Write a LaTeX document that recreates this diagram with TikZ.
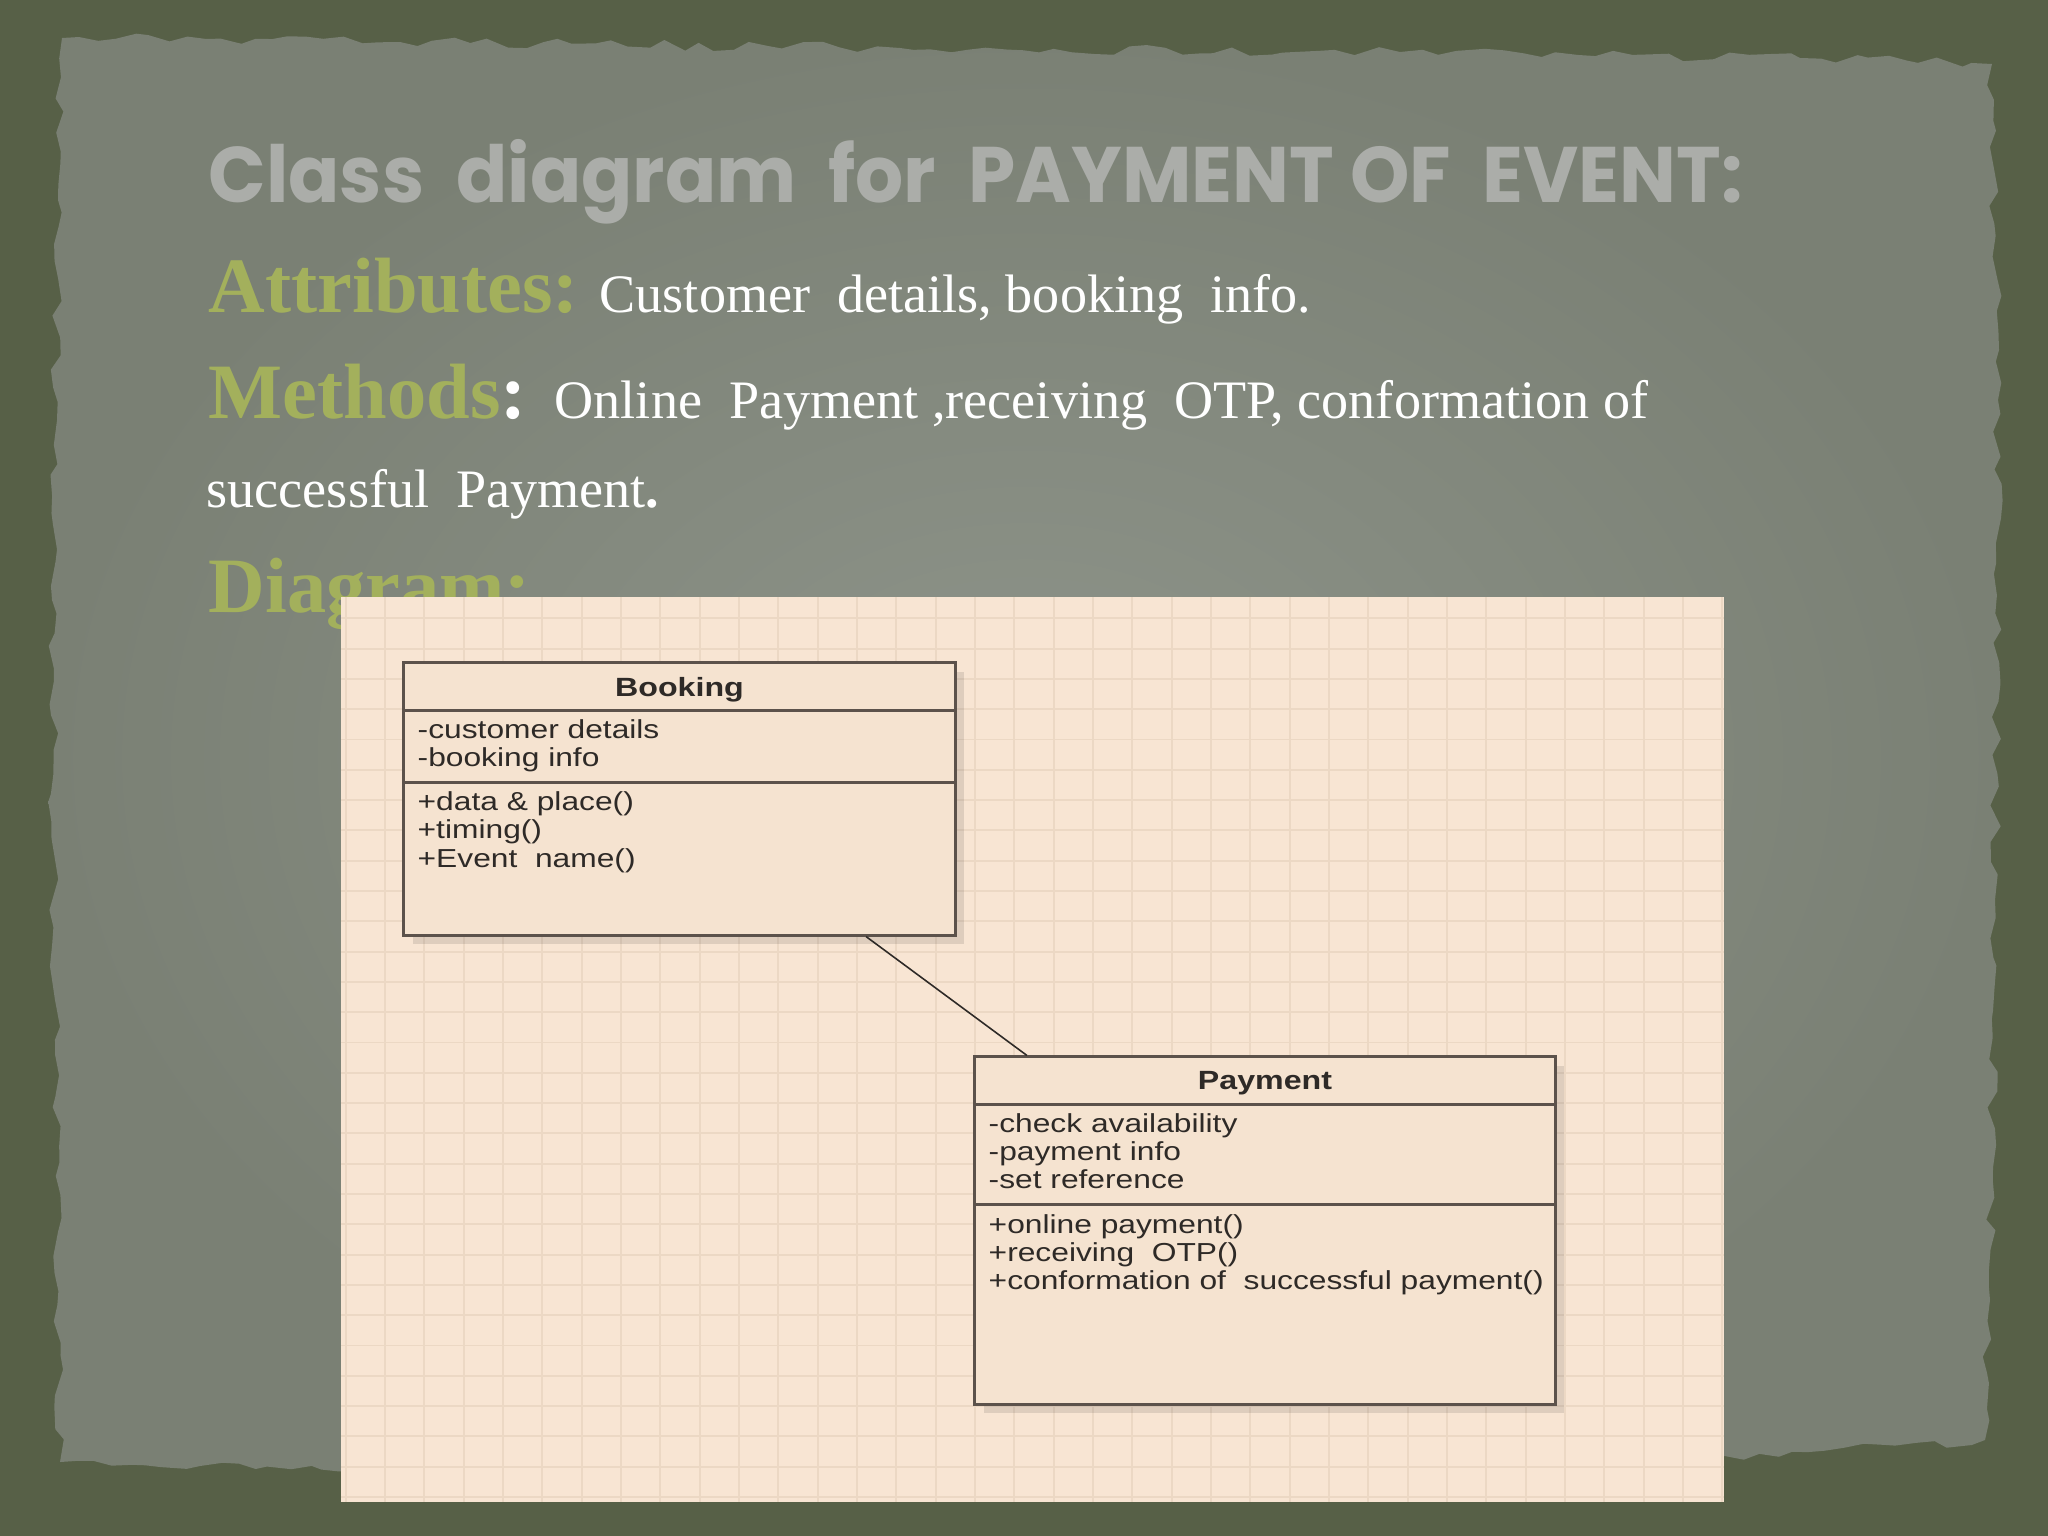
\documentclass[tikz,border=0pt]{standalone}
\usepackage{fontspec}
\usetikzlibrary{decorations.pathmorphing,shadows}
\setmainfont{Liberation Serif}
\newfontfamily\headfont[FakeStretch=0.96]{Poppins}
\newfontfamily\greenfont{Liberation Serif}
\newfontfamily\umlfont[FakeStretch=1.22]{Liberation Sans}

\definecolor{bgolive}{HTML}{576047}
\definecolor{paperdark}{HTML}{7A8074}
\definecolor{paperlight}{HTML}{8E948A}
\definecolor{titlegray}{HTML}{ABADA9}
\definecolor{leafgreen}{HTML}{A3B05C}
\definecolor{panelpeach}{HTML}{F8E5D3}
\definecolor{gridtan}{HTML}{ECD8C4}
\definecolor{boxfill}{HTML}{F5E3D0}
\definecolor{boxline}{HTML}{5C524B}
\definecolor{umltext}{HTML}{2E2A27}

\begin{document}
\begin{tikzpicture}[x=0.01cm, y=-0.01cm,
    slidetext/.style={anchor=base west, inner sep=0},
    classbox/.style={draw=boxline, line width=0.85pt, fill=boxfill, inner sep=0,
        drop shadow={shadow xshift=2.5pt, shadow yshift=-2.5pt, fill=black, opacity=0.10}},
    classname/.style={anchor=base, inner sep=0, text=umltext,
        font=\umlfont\bfseries\fontsize{7.5}{8.1}\selectfont},
    member/.style={anchor=base west, inner sep=0, text=umltext,
        font=\umlfont\fontsize{7.4}{8.1}\selectfont},
    divider/.style={draw=boxline, line width=0.85pt},
    gridline/.style={draw=gridtan, line width=0.55pt},
    assoc/.style={draw=umltext, line width=0.45pt}]
    \useasboundingbox (0,0) rectangle (2048,1536);

    % Background and torn paper
    \pgfmathsetseed{7}
    \fill[bgolive] (0,0) rectangle (2048,1536);
    \shade[inner color=paperlight, outer color=paperdark, decorate,
        decoration={random steps, segment length=5pt, amplitude=1.5pt}]
        (62,38) -- (400,42) -- (900,48) -- (1400,52) -- (1800,58) -- (1992,64)
        -- (1998,400) -- (1995,900) -- (1990,1300) -- (1985,1440)
        -- (1700,1458) -- (1300,1470) -- (900,1478) -- (500,1472) -- (200,1466) -- (60,1462)
        -- (55,1000) -- (52,600) -- (58,200) -- cycle;

    % Slide text
    \node[slidetext, text=titlegray, font=\headfont\bfseries\fontsize{22.4}{26}\selectfont] (title)
        at (208,202) {Class~~diagram~~for~~PAYMENT OF~~EVENT:};
    \node[slidetext, text=leafgreen, font=\greenfont\bfseries\fontsize{22.3}{26}\selectfont] (attrlabel)
        at (208,312) {Attributes:};
    \node[slidetext, text=white, font=\fontsize{15.4}{18}\selectfont] (attrtext)
        at (599,312) {Customer~~details, booking~~info.};
    \node[slidetext, text=leafgreen, font=\greenfont\bfseries\fontsize{22.3}{26}\selectfont] (methlabel)
        at (208,418) {Methods\textcolor{white}{:}};
    \node[slidetext, text=white, font=\fontsize{15.4}{18}\selectfont] (methtext)
        at (554,418) {Online~~Payment ,receiving~~OTP, conformation of};
    \node[slidetext, text=white, font=\fontsize{15.4}{18}\selectfont] (methmore)
        at (206,507) {successful~~Payment\textbf{.}};
    \node[slidetext, text=leafgreen, font=\greenfont\bfseries\fontsize{22.3}{26}\selectfont] (diaglabel)
        at (208,612) {Diagram:};

    % Grid panel
    \fill[panelpeach] (341,597) rectangle (1724,1502);
    \foreach \i in {0,...,35}
        \draw[gridline] ({345.7+39.33*\i},597) -- ({345.7+39.33*\i},1502);
    \foreach \j in {0,...,29}
        \draw[gridline] (341,{618.3+30.3*\j}) -- (1724,{618.3+30.3*\j});

    % Booking class
    \node[classbox, minimum width=5.51cm, minimum height=2.72cm] (booking) at (679.5,799) {};
    \draw[divider] (booking.west |- 0,710) -- (booking.east |- 0,710);
    \draw[divider] (booking.west |- 0,782) -- (booking.east |- 0,782);
    \node[classname] (bookingname) at (679.5,696) {Booking};
    \foreach \txt [count=\i from 0] in {-customer details,-booking info}
        \node[member] (bkattr\i) at (417,{738+28.5*\i}) {\txt};
    \foreach \txt [count=\i from 0] in {+data \& place(),+timing(),+Event~~name()}
        \node[member] (bkop\i) at (417,{810+28.5*\i}) {\txt};

    % Payment class
    \node[classbox, minimum width=5.80cm, minimum height=3.47cm] (payment) at (1265,1230.5) {};
    \draw[divider] (payment.west |- 0,1104) -- (payment.east |- 0,1104);
    \draw[divider] (payment.west |- 0,1204) -- (payment.east |- 0,1204);
    \node[classname] (paymentname) at (1265,1089) {Payment};
    \foreach \txt [count=\i from 0] in {-check availability,-payment info,-set reference}
        \node[member] (pyattr\i) at (988,{1132+28.2*\i}) {\txt};
    \foreach \txt [count=\i from 0] in {+online payment(),+receiving~~OTP(),+conformation of~~successful payment()}
        \node[member] (pyop\i) at (988,{1233+28.2*\i}) {\txt};

    % Association
    \draw[assoc] ([xshift=1.865cm]booking.south) -- ([xshift=-2.38cm]payment.north);
\end{tikzpicture}
\end{document}
